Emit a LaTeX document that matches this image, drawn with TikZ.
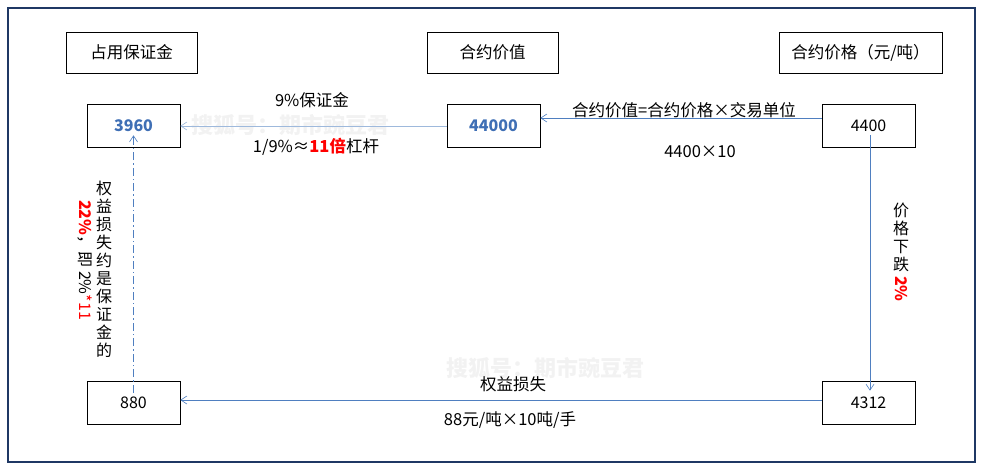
\documentclass[tikz,border=0pt]{standalone}
\usepackage{fontspec}
\setmainfont{Noto Sans CJK SC}
\usetikzlibrary{arrows.meta}
\definecolor{ab}{HTML}{4F7FC0}
\definecolor{fr}{HTML}{1F3864}
\definecolor{tb}{HTML}{3F6FB5}
\begin{document}
\begin{tikzpicture}[x=1pt,y=-1pt,
 bx/.style={draw,semithick,minimum width=93pt,minimum height=43pt,inner sep=0,font=\fontsize{16}{18}\selectfont},
 hb/.style={draw,semithick,minimum height=41pt,inner sep=0,font=\fontsize{16.5}{18}\selectfont},
 ar/.style={draw=ab,-{Straight Barb[length=6pt,width=8pt]},semithick},
 lb/.style={font=\fontsize{16.5}{18}\selectfont,inner sep=1pt},
 vt/.style={font=\fontsize{16}{18}\selectfont,inner sep=0pt,align=center,anchor=north}]
\useasboundingbox (0,0) rectangle (982,471);
\draw[fr,line width=1.5pt] (8,8) rectangle (975,462);
\node[font=\bfseries\fontsize{22}{24}\selectfont,text=gray!10] at (290,125) {搜狐号：期市豌豆君};
\node[font=\bfseries\fontsize{22}{24}\selectfont,text=gray!10] at (545,368) {搜狐号：期市豌豆君};
\node[hb,minimum width=131pt] (h1) at (131.5,52.5) {占用保证金};
\node[hb,minimum width=131pt] (h2) at (492.5,52.5) {合约价值};
\node[hb,minimum width=163pt] (h3) at (860.5,52.5) {合约价格（元/吨）};
\node[bx,text=tb,font=\bfseries\fontsize{16}{18}\selectfont] (a) at (133.5,125.5) {3960};
\node[bx,text=tb,font=\bfseries\fontsize{16}{18}\selectfont] (b) at (493.5,125.5) {44000};
\node[bx] (c) at (868.5,125.5) {4400};
\node[bx] (d) at (133.5,402.5) {880};
\node[bx] (e) at (868.5,402.5) {4312};
\coordinate (c1) at (c.west|-0,118);
\coordinate (b1) at (b.east|-0,118);
\draw[ar] (c1) -- (b1);
\coordinate (b2) at (b.west|-0,126);
\coordinate (a2) at (a.east|-0,126);
\draw[ar,draw=ab!55] (b2) -- (a2);
\coordinate (c3) at (870,0|-c.south);
\coordinate (e3) at (870,0|-e.north);
\draw[ar] ([yshift=12pt]c3) -- ([yshift=-10pt]e3);
\coordinate (e4) at (e.west|-0,400);
\coordinate (d4) at (d.east|-0,400);
\draw[ar] (e4) -- (d4);
\draw[ar,dash pattern=on 8pt off 3pt on 1.5pt off 3pt] ([yshift=-12pt]d.north) -- ([yshift=12pt]a.south);
\node[lb] (t1) at (312,100) {9\%保证金};
\node[lb] (t2) at (316,147) {1/9\%≈\textcolor{red}{\textbf{11倍}}杠杆};
\node[lb] (t3) at (684,110) {合约价值=合约价格×交易单位};
\node[lb] (t4) at (700,152) {4400×10};
\node[lb] (t5) at (513,384) {权益损失};
\node[lb] (t6) at (510,420) {88元/吨×10吨/手};
\node[vt] (v1) at (104,181) {权\\益\\损\\失\\约\\是\\保\\证\\金\\的};
\node[vt] (v2) at (85,200) {\rotatebox{-90}{\textcolor{red}{\textbf{\textit{22\%}}}，即 2\%\textcolor{red}{*11}}};
\node[vt] (v3) at (901,203) {价\\格\\下\\跌};
\node[vt] (v4) at (901,276) {\rotatebox{-90}{\textcolor{red}{\textbf{\textit{2\%}}}}};
\end{tikzpicture}
\end{document}
